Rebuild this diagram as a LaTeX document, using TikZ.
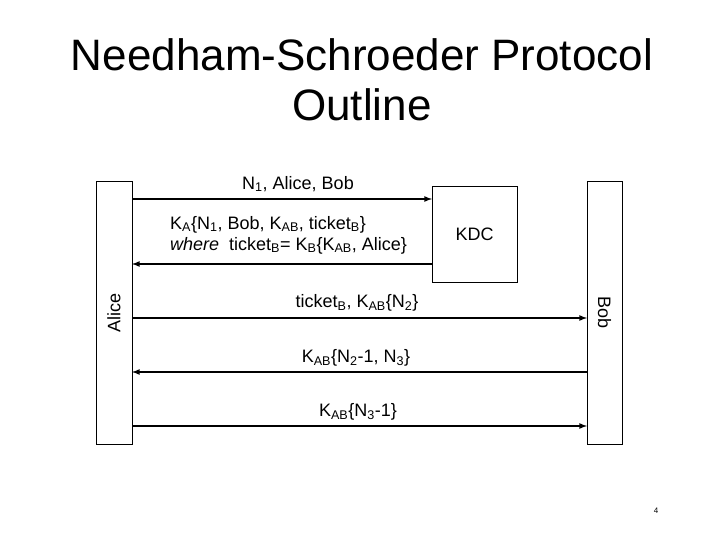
\documentclass[tikz,border=0pt]{standalone}
\usepackage{fontspec}
\setmainfont{Liberation Sans}
\begin{document}
\begin{tikzpicture}[x=1pt,y=-1pt,
  box/.style={draw,line width=0.8pt,fill=white},
  msg/.style={line width=1.6pt,-latex},
  lbl/.style={font=\fontsize{18}{21}\selectfont,inner sep=1pt}]
\useasboundingbox (0,0) rectangle (720,540);
\node[font=\fontsize{44}{50}\selectfont,align=center] (title) at (362,80) {Needham-Schroeder Protocol\\Outline};
\node[box,minimum width=36pt,minimum height=263pt] (alice) at (114,312.5) {};
\node[rotate=90,lbl] (alicet) at (alice) {Alice};
\node[box,minimum width=35pt,minimum height=263pt] (bob) at (604.5,312.5) {};
\node[rotate=-90,lbl] (bobt) at (bob) {Bob};
\node[box,minimum width=85pt,minimum height=96pt,lbl] (kdc) at (474.5,234) {KDC};
\coordinate (a1) at (132,199); \coordinate (k1) at (432,199);
\coordinate (k2) at (432,264); \coordinate (a2) at (132,264);
\coordinate (a3) at (132,318); \coordinate (b3) at (587,318);
\coordinate (b4) at (587,372); \coordinate (a4) at (132,372);
\coordinate (a5) at (132,426); \coordinate (b5) at (587,426);
\draw[msg] (a1) -- (k1);
\draw[msg] (k2) -- (a2);
\draw[msg] (a3) -- (b3);
\draw[msg] (b4) -- (a4);
\draw[msg] (a5) -- (b5);
\node[lbl] (l1) at (298,184) {N\textsubscript{1}, Alice, Bob};
\node[lbl,align=left,anchor=west] (l2) at (169,235) {K\textsubscript{A}\{N\textsubscript{1}, Bob, K\textsubscript{AB}, ticket\textsubscript{B}\}\\\textit{where}\ \ ticket\textsubscript{B}= K\textsubscript{B}\{K\textsubscript{AB}, Alice\}};
\node[lbl] (l3) at (357,303) {ticket\textsubscript{B}, K\textsubscript{AB}\{N\textsubscript{2}\}};
\node[lbl] (l4) at (356,358) {K\textsubscript{AB}\{N\textsubscript{2}-1, N\textsubscript{3}\}};
\node[lbl] (l5) at (358,412) {K\textsubscript{AB}\{N\textsubscript{3}-1\}};
\node[font=\fontsize{8}{9}\selectfont] (pg) at (656,511) {4};
\end{tikzpicture}
\end{document}
